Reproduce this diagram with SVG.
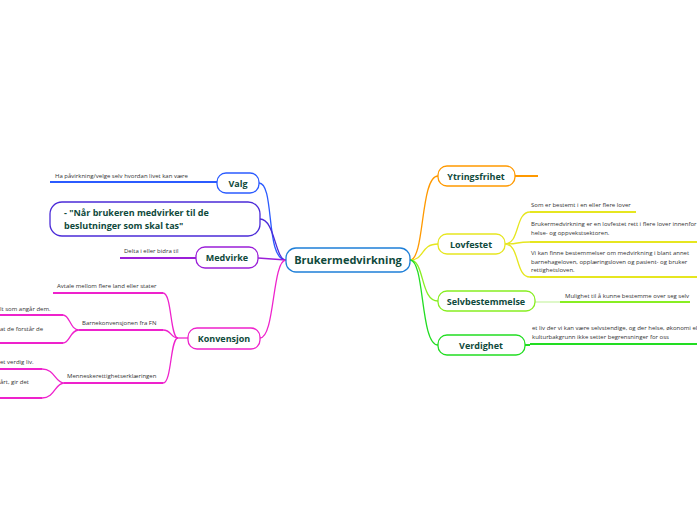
<svg xmlns="http://www.w3.org/2000/svg" width="697" height="520" viewBox="0 0 697 520">
<style>
text{font-family:"Open Sans","Noto Sans",sans-serif}
.n{font-size:9px;font-weight:bold;fill:#0f4a3c;text-anchor:middle}
.s{font-size:6px;fill:#333}
.c{fill:none;stroke-width:1.3}
.u{fill:none;stroke-width:2}
.b{fill:#fff;stroke-width:1.3}
</style>
<rect width="697" height="520" fill="#fff"/>
<g id="connectors">
<path class="c" stroke="#2b5bff" d="M286,260 C265,260 275,183 259,183"/>
<path class="c" stroke="#4b2bd8" d="M286,260 C275,260 275,219 260,219"/>
<path class="c" stroke="#9b1fd8" d="M286,260 L258,258"/>
<path class="c" stroke="#ee22cc" d="M286,260 C272,260 275,338 260,338"/>
<path class="c" stroke="#ff9900" d="M410,260 C425,260 420,176 438,176"/>
<path class="c" stroke="#e6e620" d="M410,260 C425,260 420,244 438,244"/>
<path class="c" stroke="#88ee22" d="M410,260 C425,260 420,301 438,301"/>
<path class="c" stroke="#22dd22" d="M410,260 C425,260 420,345 438,345"/>
<path class="u" stroke="#2b5bff" d="M50,182 H217"/>
<path class="u" stroke="#9b1fd8" d="M120,258 H196"/>
<path class="u" stroke="#ff9900" d="M515,176 H538"/>
<path class="c" stroke="#ccf5aa" d="M535,302 H560"/><path class="u" stroke="#88ee22" d="M560,302 H690"/>
<path class="u" stroke="#22dd22" d="M525,345 H530 M530,344 H697"/>
<g stroke="#ee22cc">
<path class="c" d="M188,338 H178"/>
<path class="c" d="M178,338 C170,338 172,293 163,293"/>
<path class="c" d="M178,338 C170,338 172,330 163,330"/>
<path class="c" d="M178,338 C170,338 172,383 163,383"/>
<path class="u" d="M53,293 H163 M79,330 H163 M64,383 H163"/>
<path class="c" d="M79,330 C70,330 70,315 63,315 M79,330 C70,330 70,343 63,343"/>
<path class="u" d="M0,315 H63 M0,343 H63"/>
<path class="c" d="M64,383 C55,383 55,369 42,369 M64,383 C55,383 55,398 42,398"/>
<path class="u" d="M0,369 H42 M0,398 H42"/>
</g>
<g stroke="#e6e620">
<path class="c" d="M505,244 C520,244 515,212 530,212 M505,244 C520,244 515,242 530,242 M505,244 C520,244 515,277 530,277"/>
<path class="u" d="M530,212 H636 M530,242 H697 M530,277 H697"/>
</g>
</g>
<g id="central"><rect class="b" stroke="#1e7fd8" x="286" y="248" width="124" height="24" rx="10"/><text class="n" x="348" y="264" style="font-size:11px">Brukermedvirkning</text></g>
<g id="valg"><rect class="b" stroke="#2b5bff" x="217" y="173" width="42" height="20" rx="9"/><text class="n" x="238" y="187">Valg</text><text class="s" x="55" y="178">Ha påvirkning/velge selv hvordan livet kan være</text></g>
<g id="sitat"><rect class="b" stroke="#4b2bd8" x="50" y="202" width="210" height="34" rx="12"/><text class="n" style="text-anchor:start" x="64" y="216">- "Når brukeren medvirker til de</text><text class="n" style="text-anchor:start" x="64" y="229">beslutninger som skal tas"</text></g>
<g id="medvirke"><rect class="b" stroke="#9b1fd8" x="196" y="247" width="62" height="21" rx="9"/><text class="n" x="227" y="261">Medvirke</text><text class="s" x="124" y="253">Delta i eller bidra til</text></g>
<g id="konvensjon"><rect class="b" stroke="#ee22cc" x="188" y="328" width="72" height="21" rx="9"/><text class="n" x="224" y="342">Konvensjon</text>
<text class="s" x="57" y="288">Avtale mellom flere land eller stater</text>
<text class="s" x="82" y="325">Barnekonvensjonen fra FN</text>
<text class="s" x="67" y="378">Menneskerettighetserklæringen</text>
<text class="s" x="0" y="311">lt som angår dem.</text>
<text class="s" x="0" y="331">at de forstår de</text>
<text class="s" x="0" y="364">et verdig liv.</text>
<text class="s" x="0" y="384">årt, gir det</text></g>
<g id="ytringsfrihet"><rect class="b" stroke="#ff9900" x="438" y="166" width="77" height="20" rx="9"/><text class="n" x="476" y="180">Ytringsfrihet</text></g>
<g id="lovfestet"><rect class="b" stroke="#e6e620" x="438" y="234" width="67" height="20" rx="9"/><text class="n" x="471" y="248">Lovfestet</text>
<text class="s" x="531" y="207">Som er bestemt i en eller flere lover</text>
<text class="s" x="531" y="226">Brukermedvirkning er en lovfestet rett i flere lover innenfor</text>
<text class="s" x="531" y="235">helse- og oppvekstsektoren.</text>
<text class="s" x="531" y="255">Vi kan finne bestemmelser om medvirkning i blant annet</text>
<text class="s" x="531" y="264">barnehageloven, opplæringsloven og pasient- og bruker</text>
<text class="s" x="531" y="272">rettighetsloven.</text></g>
<g id="selvbestemmelse"><rect class="b" stroke="#88ee22" x="438" y="291" width="97" height="20" rx="9"/><text class="n" x="486" y="305">Selvbestemmelse</text><text class="s" x="565" y="298">Mulighet til å kunne bestemme over seg selv</text></g>
<g id="verdighet"><rect class="b" stroke="#22dd22" x="438" y="335" width="87" height="20" rx="9"/><text class="n" x="481" y="349">Verdighet</text>
<text class="s" x="532" y="330">et liv der vi kan være selvstendige, og der helse, økonomi el</text>
<text class="s" x="532" y="339">kulturbakgrunn ikke setter begrensninger for oss</text></g>
</svg>
